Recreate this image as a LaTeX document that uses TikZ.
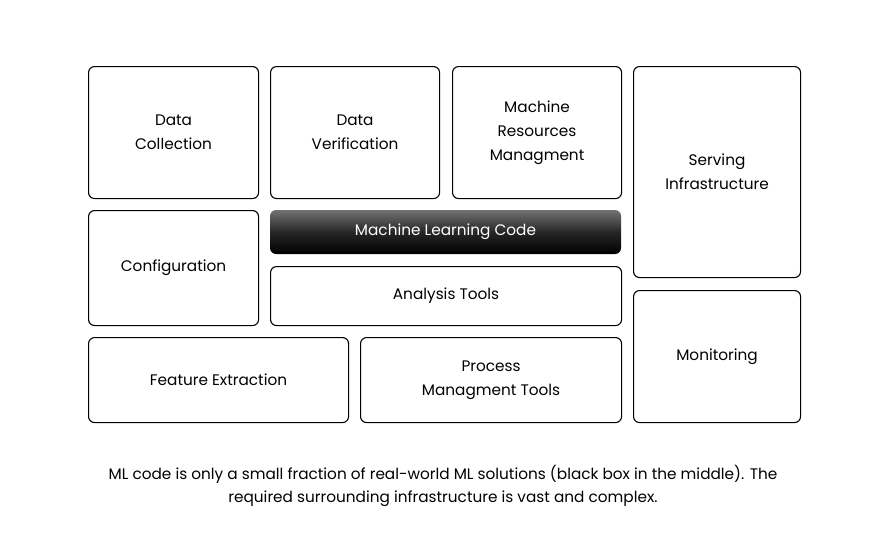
\documentclass[tikz,border=0pt]{standalone}
\usepackage{fontspec}
\setmainfont{Poppins}
\begin{document}
\begin{tikzpicture}[x=1pt,y=-1pt,
 box/.style={draw=black,line width=1.1pt,rounded corners=6pt,align=center,font=\fontsize{15.3}{24}\selectfont},
 ]
\useasboundingbox[fill=white] (0,0) rectangle (886,546);
\newcommand{\bx}[6]{\node[box,minimum width=#4-#2,minimum height=#5-#3,anchor=north west] (#1) at (#2,#3) {#6};}
\bx{dc}{88}{66}{258}{198}{Data\\Collection}
\bx{dv}{270}{66}{439}{198}{Data\\Verification}
\bx{mr}{452}{66}{621}{198}{Machine\\Resources\\Managment}
\bx{si}{633}{66}{800}{277}{Serving\\Infrastructure}
\bx{cf}{88}{210}{258}{325}{Configuration}
\shade[rounded corners=6pt,top color=black!55,bottom color=black,middle color=black!85] (270,210) rectangle (621,254);
\node[font=\fontsize{15.3}{24}\selectfont,text=white] (ml) at (445.5,232) {Machine Learning Code};
\bx{at}{270}{266}{621}{325}{Analysis Tools}
\bx{mo}{633}{290}{800}{422}{Monitoring}
\bx{fe}{88}{337}{348}{422}{Feature Extraction}
\bx{pm}{360}{337}{621}{422}{Process\\Managment Tools}
\node[align=center,font=\fontsize{15.3}{23}\selectfont] (cap) at (443,486) {ML code is only a small fraction of real-world ML solutions (black box in the middle). The\\required surrounding infrastructure is vast and complex.};
\end{tikzpicture}
\end{document}
